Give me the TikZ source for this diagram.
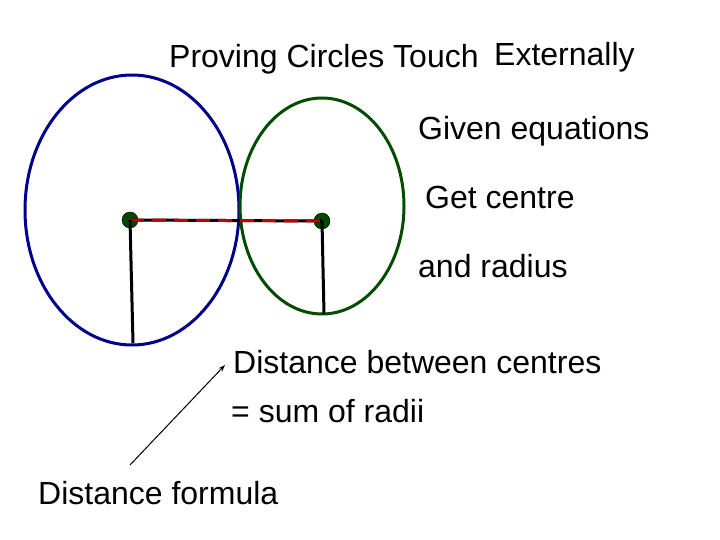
\documentclass[tikz,border=0pt]{standalone}
\usepackage{fontspec}
\setmainfont{Liberation Sans}
\usetikzlibrary{arrows.meta}
\begin{document}
\begin{tikzpicture}[x=1pt,y=-1pt,
  lbl/.style={font=\fontsize{32}{38}\selectfont,inner sep=0pt},
  dot/.style={circle,fill=black!60!green!70!black,draw=black,minimum size=16pt,inner sep=0pt},
  ln/.style={line width=3pt,black}]
\useasboundingbox (0,0) rectangle (720,540);
\draw[line width=3pt,blue!55!black] (132,210) ellipse [x radius=107, y radius=135];
\draw[line width=3pt,green!30!black] (322,206) ellipse [x radius=82, y radius=108];
\node[dot] (c1) at (130,220) {};
\node[dot] (c2) at (322,221) {};
\coordinate (b1) at (133,343);
\coordinate (b2) at (324,314);
\draw[ln] (c1.center) -- (c2.center);
\draw[line width=3pt,red!75!black,dash pattern=on 14pt off 8pt] (c1.center) -- (c2.center);
\draw[ln] (c1.center) -- (b1);
\draw[ln] (c2.center) -- (b2);
\node[lbl,anchor=base west] (t1) at (169,68) {Proving Circles Touch};
\node[lbl,anchor=base west] (t2) at (494,66) {Externally};
\node[lbl,anchor=base west] (t3) at (418,140) {Given equations};
\node[lbl,anchor=base west] (t4) at (425,208) {Get centre};
\node[lbl,anchor=base west] (t5) at (418,277) {and radius};
\node[lbl,anchor=base west] (t6) at (233,373) {Distance between centres};
\node[lbl,anchor=base west] (t7) at (231,422) {= sum of radii};
\node[lbl,anchor=base west] (t8) at (38,504) {Distance formula};
\coordinate (a0) at (130,465);
\coordinate (a1) at (225,365);
\draw[-{Stealth[length=7pt,width=5pt]},line width=1pt] (a0) -- (a1);
\end{tikzpicture}
\end{document}
